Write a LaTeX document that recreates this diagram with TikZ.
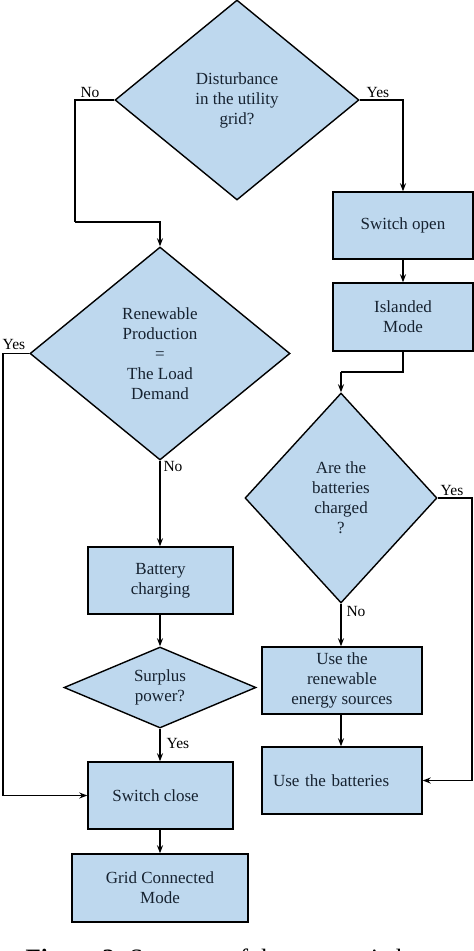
\documentclass[tikz,border=0pt]{standalone}
\usepackage{fontspec}
\setmainfont{Liberation Serif}
\usetikzlibrary{shapes.geometric,arrows.meta}
\definecolor{boxfill}{RGB}{190,216,238}
\definecolor{boxtext}{RGB}{22,34,48}
\tikzset{
  every picture/.style={line width=1.4pt},
  box/.style={draw=black, fill=boxfill, rectangle, inner sep=0pt, align=center,
    text=boxtext, font=\fontsize{17}{20}\selectfont},
  dec/.style={draw=black, fill=boxfill, diamond, inner sep=0pt, align=center,
    text=boxtext, font=\fontsize{17}{20}\selectfont},
  lbl/.style={font=\fontsize{15.5}{17}\selectfont, inner sep=0pt, text=black},
  arr/.style={-{Stealth[length=8pt,width=6pt]}},
}
\begin{document}
\begin{tikzpicture}[x=1pt,y=-1pt]
\useasboundingbox (0,0) rectangle (474,951);
% decisions
\node[dec, minimum width=244pt, minimum height=200pt] (d1) at (237,100) {Disturbance\\in the utility\\grid?};
\node[dec, minimum width=260pt, minimum height=213pt] (d2) at (160,353.5) {Renewable\\Production\\=\\The Load\\Demand};
\node[dec, minimum width=192pt, minimum height=210pt] (d3) at (341,498) {Are the\\batteries\\charged\\?};
\node[dec, aspect=2.3, minimum width=192pt, minimum height=81pt] (sp) at (160,687.5) {Surplus\\power?};
% boxes
\node[box, minimum width=140pt, minimum height=67pt] (so) at (403,225.5) {Switch open};
\node[box, minimum width=140pt, minimum height=68pt] (im) at (403,317) {Islanded\\Mode};
\node[box, minimum width=160pt, minimum height=67pt] (ur) at (342,680.5) {Use the\\renewable\\energy sources};
\node[box, minimum width=160pt, minimum height=67pt, text width=150pt, align=left] (ub) at (342,780.5) {\hspace*{6pt}Use the batteries};
\node[box, minimum width=145pt, minimum height=67pt] (bc) at (160.5,580.5) {Battery\\charging};
\node[box, minimum width=145pt, minimum height=67pt] (sc) at (160.5,795.5) {Switch close\hspace*{10pt}};
\node[box, minimum width=176pt, minimum height=68pt] (gc) at (160,888) {Grid Connected\\Mode};
% junctions
\coordinate (j1) at (75,222);
\coordinate (j2) at (341,372);
\coordinate (j3) at (472,780.5);
\coordinate (j4) at (3,795.5);
% connectors
\draw (d1.west) -| (j1);
\draw[arr] (j1) -| (d2.north);
\draw[arr] (d1.east) -| (so.north);
\draw[arr] (so.south) -- (im.north);
\draw (im.south) |- (j2);
\draw[arr] (j2) -- (d3.north);
\draw (d3.east) -| (j3);
\draw[arr] (j3) -- (ub.east);
\draw[arr] (d3.south) -- (d3.south |- ur.north);
\draw[arr] (ur.south -| d3.south) -- (d3.south |- ub.north);
\draw (d2.west) -| (j4);
\draw[arr] (j4) -- (sc.west);
\draw[arr] (d2.south) -- (d2.south |- bc.north);
\draw[arr] (d2.south |- bc.south) -- (sp.north);
\draw[arr] (sp.south) -- (sp.south |- sc.north);
\draw[arr] (sp.south |- sc.south) -- (sp.south |- gc.north);
% labels
\node[lbl] (l1) at (90,92) {No};
\node[lbl] (l2) at (378,92) {Yes};
\node[lbl] (l3) at (14,344) {Yes};
\node[lbl] (l4) at (173,466) {No};
\node[lbl] (l5) at (452,490) {Yes};
\node[lbl] (l6) at (356,611) {No};
\node[lbl] (l7) at (178,743) {Yes};
% caption (cut off at the bottom edge, as in the reference)
\node[anchor=base west, inner sep=0pt, font=\fontsize{25}{28}\selectfont] (cap) at (25,966) {\textbf{Figure 2.} Structure of the state switch system};
\end{tikzpicture}
\end{document}
